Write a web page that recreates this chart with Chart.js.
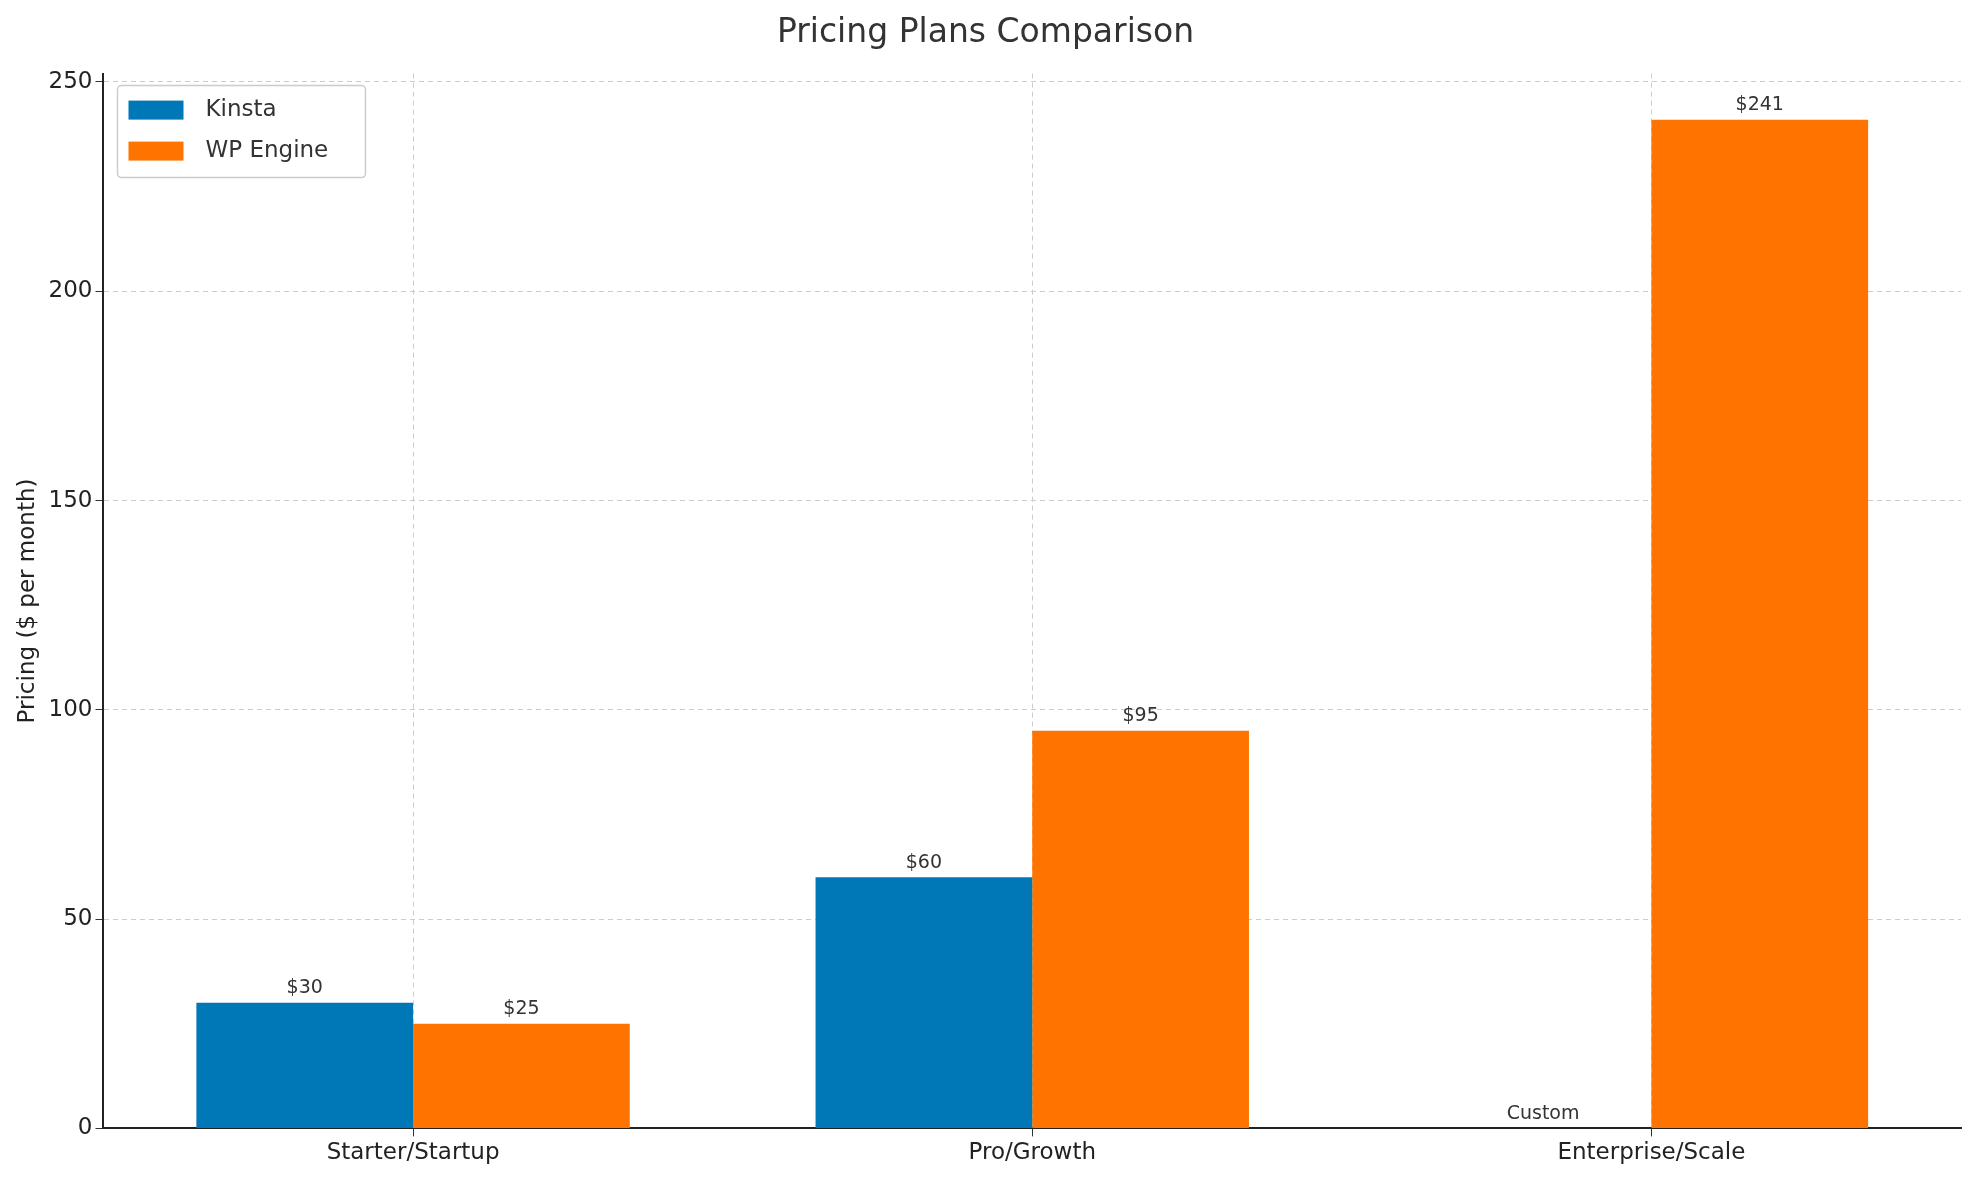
<!DOCTYPE html>
<html><head><meta charset="utf-8">
<script src="https://cdn.jsdelivr.net/npm/chart.js@4"></script>
<style>html,body{margin:0;background:#fff}#w{width:1979px;height:1180px}</style>
</head><body><div id="w"><canvas id="c"></canvas></div>
<script>
const categories = ["Starter/Startup", "Pro/Growth", "Enterprise/Scale"];
const kinsta = [30, 60, null];
const wpengine = [25, 95, 241];
const kinstaLabels = ["$30", "$60", "Custom"];
const wpLabels = ["$25", "$95", "$241"];
const yTicks = [0, 50, 100, 150, 200, 250];
const F = "DejaVu Sans";
const C1 = "#0077b6", C2 = "#ff7400";

const labelsPlugin = {
  id: 'lbl',
  afterDatasetsDraw(chart) {
    const ctx = chart.ctx, y = chart.scales.y;
    ctx.save();
    ctx.font = "19px " + F; ctx.fillStyle = "#333"; ctx.textAlign = "center"; ctx.textBaseline = "bottom";
    [[0, kinsta, kinstaLabels], [1, wpengine, wpLabels]].forEach(([di, vals, labs]) => {
      const meta = chart.getDatasetMeta(di);
      meta.data.forEach((bar, i) => {
        const v = vals[i] == null ? 0 : vals[i];
        ctx.fillText(labs[i], bar.x, y.getPixelForValue(v) - 5);
      });
    });
    // legend
    const a = chart.chartArea, x0 = a.left + 14, y0 = a.top + 12;
    ctx.fillStyle = "rgba(255,255,255,0.8)"; ctx.strokeStyle = "#ccc"; ctx.lineWidth = 1.5;
    ctx.beginPath(); ctx.roundRect(x0, y0, 248, 92, 4); ctx.fill(); ctx.stroke();
    ctx.textAlign = "left"; ctx.textBaseline = "middle"; ctx.font = "23px " + F;
    [[C1, "Kinsta"], [C2, "WP Engine"]].forEach(([c, t], k) => {
      const yy = y0 + 24 + k * 41;
      ctx.fillStyle = c; ctx.fillRect(x0 + 11, yy - 9, 55, 19);
      ctx.fillStyle = "#333"; ctx.fillText(t, x0 + 88, yy);
    });
    ctx.restore();
  }
};

new Chart(document.getElementById('c'), {
  type: 'bar',
  data: { labels: categories, datasets: [
    { label: 'Kinsta', data: kinsta, backgroundColor: C1 },
    { label: 'WP Engine', data: wpengine, backgroundColor: C2 }
  ]},
  options: {
    responsive: true, maintainAspectRatio: false, animation: false,
    categoryPercentage: 0.7, barPercentage: 1,
    layout: { padding: { left: 10, right: 18, top: 0, bottom: 10 } },
    plugins: {
      legend: { display: false }, tooltip: { enabled: false },
      title: { display: true, text: "Pricing Plans Comparison", color: "#333",
        font: { family: F, size: 33, weight: 'normal' }, padding: { top: 14, bottom: 20 } }
    },
    scales: {
      x: {
        grid: { offset: false, color: "#ccc", borderDash: [5, 4], drawTicks: true, tickLength: 8, tickColor: "#333" },
        border: { color: "#222", width: 2, dash: [5,4] },
        ticks: { color: "#222", font: { family: F, size: 23 } }
      },
      y: {
        min: 0, max: 252,
        afterBuildTicks: ax => { ax.ticks = yTicks.map(v => ({ value: v })); },
        grid: { color: "#ccc", tickLength: 8, tickColor: "#333" },
        border: { color: "#222", width: 2, dash: [5,4] },
        ticks: { color: "#222", font: { family: F, size: 23 } },
        title: { display: true, text: "Pricing ($ per month)", color: "#222", font: { family: F, size: 23 } }
      }
    }
  },
  plugins: [labelsPlugin]
});
</script></body></html>
